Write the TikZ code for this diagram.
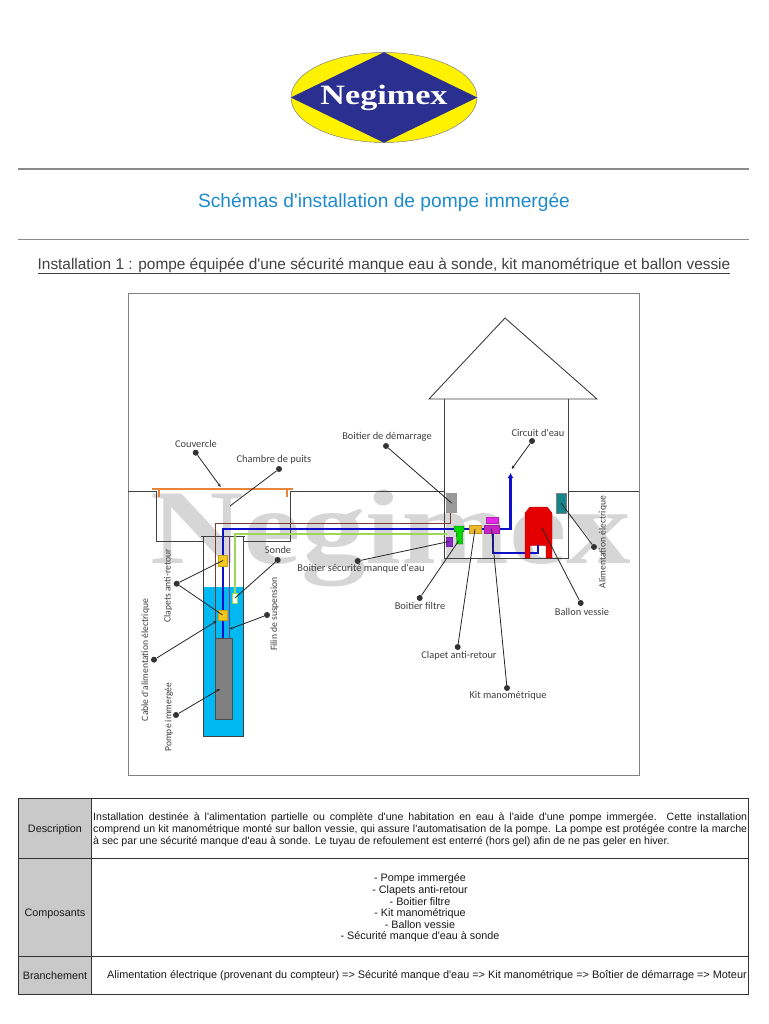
\documentclass[tikz,border=0pt]{standalone}
\usepackage{fontspec}
\setmainfont[Ligatures=TeXOff]{Liberation Sans}
\newfontfamily\logofont{Liberation Serif}
\newfontfamily\labelfont[Ligatures=TeXOff]{Carlito}
\usetikzlibrary{arrows.meta,shapes.geometric}

\definecolor{logoblue}{HTML}{2B3090}
\definecolor{logoyellow}{HTML}{FFF200}
\definecolor{titleblue}{HTML}{1E8BCD}
\definecolor{rulegray}{HTML}{8A8A8A}
\definecolor{cellgray}{HTML}{C9C9C9}
\definecolor{markgray}{HTML}{D6D6D6}
\definecolor{waterblue}{HTML}{00B9F2}
\definecolor{pipeblue}{HTML}{1010C8}
\definecolor{cablebrown}{HTML}{7A3B34}
\definecolor{lidorange}{HTML}{E8833A}
\definecolor{sensorgreen}{HTML}{9BD85A}
\definecolor{linegray}{HTML}{404040}
\definecolor{kitmagenta}{HTML}{C824C8}
\definecolor{gaugemagenta}{HTML}{E628E6}
\definecolor{guardpurple}{HTML}{8C28C8}
\definecolor{clapetyellow}{HTML}{EDB92E}
\definecolor{valveyellow}{HTML}{F2C81E}
\definecolor{tankteal}{HTML}{16858A}

\tikzset{
    wall/.style={draw=linegray, line width=0.9pt},
    pipe/.style={draw=pipeblue, line width=2.2pt},
    part/.style={draw=#1!80!black, fill=#1, line width=0.4pt},
    leader/.style={draw=black!85, line width=0.8pt},
    tipleader/.style={leader, -{Stealth[length=3.5pt,width=3pt]}},
    dot/.style={circle, fill=black!80, inner sep=0pt, minimum size=6pt},
    lbl/.style={font=\labelfont\fontsize{10.4}{11}\selectfont, text=black!75, inner sep=0pt},
    sidelbl/.style={font=\labelfont\fontsize{9.6}{11}\selectfont, text=black!75, inner sep=0pt, rotate=90},
    cell/.style={font=\fontsize{10.8}{12}\selectfont, text=black!90, inner sep=0pt},
    tline/.style={draw=black!80, line width=1pt},
}

\begin{document}
\begin{tikzpicture}[x=1pt, y=-1pt]

    \useasboundingbox[fill=white] (0,0) rectangle (768,1024);

    % logo
    \node[ellipse, draw=black!50, fill=logoyellow, line width=0.5pt, minimum width=186pt, minimum height=90pt, inner sep=0pt] (logo) at (384,97.5) {};
    \fill[logoblue] (logo.west) -- (logo.north) -- (logo.east) -- (logo.south) -- cycle;
    \node[font=\logofont\bfseries\fontsize{28}{30}\selectfont, text=white, inner sep=0pt, transform shape, xscale=1.22, anchor=base] (logotext) at (384,105) {Negimex};

    % titles
    \draw[draw=rulegray, line width=1.6pt] (18,169) -- (749,169);
    \node[font=\fontsize{19.2}{22}\selectfont, text=titleblue, inner sep=0pt] (title) at (384,202) {Schémas d'installation de pompe immergée};
    \draw[draw=rulegray, line width=0.7pt] (18,239.5) -- (749,239.5);
    \node[font=\fontsize{15.4}{17}\selectfont, text=black!75, inner sep=0pt] (subtitle) at (384,266) {\underline{Installation 1 : pompe équipée d'une sécurité manque eau à sonde, kit manométrique et ballon vessie}};

    % frame
    \draw[draw=black!50, line width=0.7pt] (128,293) rectangle (639,775);

    % watermark
    \node[font=\logofont\bfseries\fontsize{106}{110}\selectfont, text=markgray, inner sep=0pt, transform shape, xscale=1.22, anchor=base] (mark) at (391,563) {Negimex};

    % ground and well chamber
    \draw[wall] (128,491) -- (156,491) -- (156,541.5) -- (203,541.5);
    \draw[wall] (243,541.5) -- (290,541.5) -- (290,491) -- (444,491);
    \draw[wall] (568,491) -- (639,491);

    % water
    \fill[waterblue] (203,587) rectangle (243,736);
    \draw[wall] (203,536) -- (203,736) -- (243,736) -- (243,536);
    \draw[wall] (201,536) -- (245,536);

    % house
    \draw[wall] (429,399) -- (505,318) -- (597,399) -- cycle;
    \draw[wall] (444,399) -- (444,558) -- (568,558) -- (568,399);

    % lid
    \draw[draw=lidorange, line width=1.5pt] (152,489) -- (293,489);
    \draw[draw=lidorange, line width=2pt] (159,489) -- (159,497);
    \draw[draw=lidorange, line width=2pt] (287,489) -- (287,497);

    % cable, rope, sensor line
    \draw[draw=cablebrown, line width=1pt] (215.5,638) -- (215.5,523) -- (450,523) -- (450,513);
    \draw[draw=violet!50!gray, line width=0.7pt] (229.5,537) -- (229.5,638);
    \draw[draw=sensorgreen, line width=1.1pt] (235,594) -- (235,534) -- (447,534);

    % pipes
    \draw[pipe] (223,638) -- (223,529) -- (510.5,529);
    \draw[pipe, -{Latex[length=5pt,width=6pt]}] (510.5,530) -- (510.5,473);
    \draw[pipe] (493,533) -- (493,553) -- (538,553) -- (538,544);

    % pump
    \node[draw=black!70, fill=black!50, line width=0.6pt, minimum width=17pt, minimum height=81pt, inner sep=0pt] (pump) at (223.5,678.5) {};

    % valves and sensor
    \node[part=valveyellow, minimum width=9pt, minimum height=11pt, inner sep=0pt] (valvetop) at (223,560.5) {};
    \node[part=valveyellow, minimum width=8.5pt, minimum height=10pt, inner sep=0pt] (valvelow) at (222.5,615) {};
    \node[draw=sensorgreen, fill=white, line width=0.7pt, minimum width=4.5pt, minimum height=10pt, inner sep=0pt] (probe) at (235,598) {};

    % house equipment
    \node[fill=black!40, minimum width=11pt, minimum height=20pt, inner sep=0pt] (starter) at (451.5,503) {};
    \fill[green!85!black, draw=black!70!green, line width=0.4pt] (454,526) -- (464,526) -- (464,531) -- (462.5,532) -- (462.5,544) -- (457,544) -- (456.5,532) -- (454,531) -- cycle;
    \coordinate (filter) at (458.5,541);
    \node[part=guardpurple, minimum width=6pt, minimum height=9.5pt, inner sep=0pt] (guard) at (449,541.5) {};
    \node[part=clapetyellow, minimum width=11.5pt, minimum height=8pt, inner sep=0pt] (clapet) at (475,529) {};
    \node[part=kitmagenta, minimum width=15pt, minimum height=8pt, inner sep=0pt] (kit) at (491.5,529) {};
    \node[part=gaugemagenta, minimum width=12pt, minimum height=6pt, inner sep=0pt] (gauge) at (492,520) {};
    \fill[red!90!black, draw=red!70!black, line width=0.4pt] (525,558) -- (525,513) -- (530,507) -- (547,507) -- (552,513) -- (552,558) -- (546,558) -- (546,545.5) -- (530,545.5) -- (530,558) -- cycle;
    \draw[pipe] (538,553) -- (538,545);
    \node[fill=tankteal, draw=black!50, line width=0.3pt, minimum width=10.5pt, minimum height=20pt, inner sep=0pt] (power) at (561,503) {};

    % couvercle
    \node[lbl] (couvercle) at (196,444) {Couvercle};
    \node[dot] (couverclep) at (195.7,452.7) {};
    \draw[tipleader] (couverclep) -- (220.7,487);

    % chambre
    \node[lbl] (chambre) at (274,460) {Chambre de puits};
    \node[dot] (chambrep) at (279,469) {};
    \draw[leader] (chambrep) -- (230,506);

    % demarrage
    \node[lbl] (demarrage) at (387,437) {Boitier de démarrage};
    \node[dot] (demarragep) at (386,446) {};
    \draw[leader] (demarragep) -- (starter.center);

    % circuit
    \node[lbl] (circuit) at (538,433) {Circuit d'eau};
    \node[dot] (circuitp) at (532,441) {};
    \draw[tipleader] (circuitp) -- (511.7,469);

    % alimentation
    \node[sidelbl] (alim) at (603,542) {Alimentation électrique};
    \node[dot] (alimp) at (594,547) {};
    \draw[leader] (alimp) -- (power.center);

    % ballon
    \node[lbl] (ballon) at (582,612) {Ballon vessie};
    \node[dot] (ballonp) at (580.7,603) {};
    \draw[leader] (ballonp) -- (542,528);

    % kit
    \node[lbl] (kitname) at (508,696) {Kit manométrique};
    \node[dot] (kitp) at (507,688) {};
    \draw[leader] (kitp) -- (kit.center);

    % clapet
    \node[lbl] (clapetname) at (459,656) {Clapet anti-retour};
    \node[dot] (clapetp) at (457.7,647) {};
    \draw[leader] (clapetp) -- (clapet.center);

    % filtre
    \node[lbl] (filtre) at (420,606) {Boitier filtre};
    \node[dot] (filtrep) at (419.7,598) {};
    \draw[leader] (filtrep) -- (filter);

    % securite
    \node[lbl] (securite) at (361,569) {Boitier sécurité manque d'eau};
    \node[dot] (securitep) at (357.7,561) {};
    \draw[leader] (securitep) -- (guard.center);

    % sonde
    \node[lbl] (sonde) at (278,550) {Sonde};
    \node[dot] (sondep) at (277.7,560) {};
    \draw[leader] (sondep) -- (probe.center);

    % filin
    \node[sidelbl] (filin) at (274.5,614) {Filin de suspension};
    \node[dot] (filinp) at (267,615) {};
    \coordinate (rope) at (229.7,629);
    \draw[tipleader] (filinp) -- (rope);

    % clapets
    \node[sidelbl] (clapets) at (168,586) {Clapets anti-retour};
    \node[dot] (clapetsp) at (176.7,583.7) {};
    \draw[leader] (clapetsp) -- (valvetop.center);
    \draw[leader] (clapetsp) -- (valvelow.center);

    % cable
    \node[sidelbl] (cable) at (145.5,660) {Cable d'alimentation électrique};
    \node[dot] (cablep) at (154,659.7) {};
    \coordinate (cableend) at (216.7,621);
    \draw[tipleader] (cablep) -- (cableend);

    % pompe
    \node[sidelbl] (pompe) at (169,717) {Pompe immergée};
    \node[dot] (pompep) at (176,715) {};
    \draw[tipleader] (pompep) -- (220,689);

    % table
    \fill[cellgray] (18,798) rectangle (91,994);
    \draw[tline] (18,798) rectangle (748,994);
    \draw[tline] (91,798) -- (91,994);
    \draw[tline] (18,858.5) -- (748,858.5);
    \draw[tline] (18,956.5) -- (748,956.5);

    \node[cell] (descname) at (55,830) {Description};
    \node[cell] (compname) at (55,914) {Composants};
    \node[cell] (branchname) at (55,976) {Branchement};

    \node[cell, font=\fontsize{10.6}{12}\selectfont, text width=654pt, align=justify, anchor=north west] (desc) at (93,812) {Installation destinée à l'alimentation partielle ou complète d'une habitation en eau à l'aide d'une pompe immergée. Cette installation\linebreak comprend un kit manométrique monté sur ballon vessie, qui assure l'automatisation de la pompe. La pompe est protégée contre la marche\linebreak à sec par une sécurité manque d'eau à sonde. Le tuyau de refoulement est enterré (hors gel) afin de ne pas geler en hiver.};
    \node[cell, font=\fontsize{10.8}{11.6}\selectfont, align=center] (comp) at (420,908) {- Pompe immergée\\- Clapets anti-retour\\- Boitier filtre\\- Kit manométrique\\- Ballon vessie\\- Sécurité manque d'eau à sonde};
    \node[cell, font=\fontsize{10.87}{12}\selectfont] (branch) at (427,976) {Alimentation électrique (provenant du compteur) => Sécurité manque d'eau => Kit manométrique => Boîtier de démarrage => Moteur};

\end{tikzpicture}
\end{document}
